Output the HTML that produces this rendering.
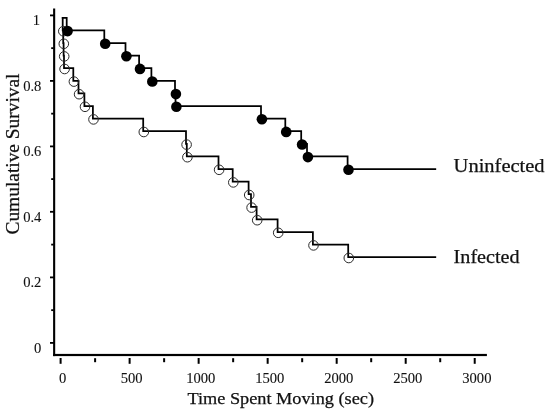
<!DOCTYPE html>
<html><head><meta charset="utf-8"><title>Survival</title>
<style>html,body{margin:0;padding:0;background:#fff;}body{width:550px;height:416px;overflow:hidden;}svg{display:block;}</style>
</head><body>
<svg width="550" height="416" viewBox="0 0 550 416">
<rect width="550" height="416" fill="#fff"/>
<rect x="53.1" y="8.5" width="2.1" height="347.6" fill="#000"/>
<rect x="53.1" y="353.9" width="433.8" height="2.2" fill="#000"/>
<rect x="50" y="342.00" width="4" height="1.8" fill="#000"/>
<rect x="50" y="276.50" width="4" height="1.8" fill="#000"/>
<rect x="50" y="210.90" width="4" height="1.8" fill="#000"/>
<rect x="50" y="145.50" width="4" height="1.8" fill="#000"/>
<rect x="50" y="80.00" width="4" height="1.8" fill="#000"/>
<rect x="50" y="14.50" width="4" height="1.8" fill="#000"/>
<rect x="51.2" y="309.25" width="2.5" height="1.8" fill="#000"/>
<rect x="51.2" y="243.70" width="2.5" height="1.8" fill="#000"/>
<rect x="51.2" y="178.20" width="2.5" height="1.8" fill="#000"/>
<rect x="51.2" y="112.75" width="2.5" height="1.8" fill="#000"/>
<rect x="51.2" y="47.25" width="2.5" height="1.8" fill="#000"/>
<rect x="59.60" y="358" width="2" height="5.8" fill="#000"/>
<rect x="128.62" y="358" width="2" height="5.8" fill="#000"/>
<rect x="197.64" y="358" width="2" height="5.8" fill="#000"/>
<rect x="266.66" y="358" width="2" height="5.8" fill="#000"/>
<rect x="335.68" y="358" width="2" height="5.8" fill="#000"/>
<rect x="404.70" y="358" width="2" height="5.8" fill="#000"/>
<rect x="473.72" y="358" width="2" height="5.8" fill="#000"/>
<rect x="94.11" y="358.2" width="2" height="4" fill="#000"/>
<rect x="163.13" y="358.2" width="2" height="4" fill="#000"/>
<rect x="232.15" y="358.2" width="2" height="4" fill="#000"/>
<rect x="301.17" y="358.2" width="2" height="4" fill="#000"/>
<rect x="370.19" y="358.2" width="2" height="4" fill="#000"/>
<rect x="439.21" y="358.2" width="2" height="4" fill="#000"/>
<path d="M62.7,17.8 H66.7 V30.4 H104.3 V43.0 H125.5 V55.6 H139.1 V68.2 H151.4 V80.8 H175.0 V93.4 H175.5 V106.0 H261.0 V118.6 H285.3 V131.2 H301.2 V143.8 H307.0 V156.4 H347.6 V169.0 H435.3" fill="none" stroke="#000" stroke-width="1.75" stroke-linejoin="miter" stroke-linecap="square"/>
<path d="M62.7,17.8 H62.7 V30.4 H63.2 V43.0 H63.6 V55.6 H64.0 V68.2 H73.3 V80.8 H78.5 V93.4 H84.4 V106.0 H92.9 V118.6 H143.2 V131.2 H186.0 V143.8 H186.8 V156.4 H218.5 V169.0 H232.7 V181.6 H248.6 V194.2 H251.0 V206.8 H256.6 V219.4 H277.6 V232.0 H312.9 V244.6 H348.2 V257.2 H435.3" fill="none" stroke="#000" stroke-width="1.75" stroke-linejoin="miter" stroke-linecap="square"/>
<circle cx="63.30" cy="31.20" r="4.8" fill="none" stroke="#2a2a2a" stroke-width="1.0"/>
<circle cx="63.80" cy="43.80" r="4.8" fill="none" stroke="#2a2a2a" stroke-width="1.0"/>
<circle cx="64.20" cy="56.40" r="4.8" fill="none" stroke="#2a2a2a" stroke-width="1.0"/>
<circle cx="64.60" cy="69.00" r="4.8" fill="none" stroke="#2a2a2a" stroke-width="1.0"/>
<circle cx="73.90" cy="81.60" r="4.8" fill="none" stroke="#2a2a2a" stroke-width="1.0"/>
<circle cx="79.10" cy="94.20" r="4.8" fill="none" stroke="#2a2a2a" stroke-width="1.0"/>
<circle cx="85.00" cy="106.80" r="4.8" fill="none" stroke="#2a2a2a" stroke-width="1.0"/>
<circle cx="93.50" cy="119.40" r="4.8" fill="none" stroke="#2a2a2a" stroke-width="1.0"/>
<circle cx="143.80" cy="132.00" r="4.8" fill="none" stroke="#2a2a2a" stroke-width="1.0"/>
<circle cx="186.60" cy="144.60" r="4.8" fill="none" stroke="#2a2a2a" stroke-width="1.0"/>
<circle cx="187.40" cy="157.20" r="4.8" fill="none" stroke="#2a2a2a" stroke-width="1.0"/>
<circle cx="219.10" cy="169.80" r="4.8" fill="none" stroke="#2a2a2a" stroke-width="1.0"/>
<circle cx="233.30" cy="182.40" r="4.8" fill="none" stroke="#2a2a2a" stroke-width="1.0"/>
<circle cx="249.20" cy="195.00" r="4.8" fill="none" stroke="#2a2a2a" stroke-width="1.0"/>
<circle cx="251.60" cy="207.60" r="4.8" fill="none" stroke="#2a2a2a" stroke-width="1.0"/>
<circle cx="257.20" cy="220.20" r="4.8" fill="none" stroke="#2a2a2a" stroke-width="1.0"/>
<circle cx="278.20" cy="232.80" r="4.8" fill="none" stroke="#2a2a2a" stroke-width="1.0"/>
<circle cx="313.50" cy="245.40" r="4.8" fill="none" stroke="#2a2a2a" stroke-width="1.0"/>
<circle cx="348.80" cy="258.00" r="4.8" fill="none" stroke="#2a2a2a" stroke-width="1.0"/>
<circle cx="67.60" cy="31.10" r="5.3" fill="#000"/>
<circle cx="105.20" cy="43.70" r="5.3" fill="#000"/>
<circle cx="126.40" cy="56.30" r="5.3" fill="#000"/>
<circle cx="140.00" cy="68.90" r="5.3" fill="#000"/>
<circle cx="152.30" cy="81.50" r="5.3" fill="#000"/>
<circle cx="175.90" cy="94.10" r="5.3" fill="#000"/>
<circle cx="176.40" cy="106.70" r="5.3" fill="#000"/>
<circle cx="261.90" cy="119.30" r="5.3" fill="#000"/>
<circle cx="286.20" cy="131.90" r="5.3" fill="#000"/>
<circle cx="302.10" cy="144.50" r="5.3" fill="#000"/>
<circle cx="307.90" cy="157.10" r="5.3" fill="#000"/>
<circle cx="348.50" cy="169.70" r="5.3" fill="#000"/>
<text transform="translate(40.0,25.20) scale(0.95,1)" font-family="Liberation Serif, serif" font-size="15.4" text-anchor="end" fill="#111" stroke="#111" stroke-width="0.1">1</text>
<text transform="translate(41.4,90.70) scale(0.95,1)" font-family="Liberation Serif, serif" font-size="15.4" text-anchor="end" fill="#111" stroke="#111" stroke-width="0.1">0.8</text>
<text transform="translate(41.4,156.20) scale(0.95,1)" font-family="Liberation Serif, serif" font-size="15.4" text-anchor="end" fill="#111" stroke="#111" stroke-width="0.1">0.6</text>
<text transform="translate(41.4,221.60) scale(0.95,1)" font-family="Liberation Serif, serif" font-size="15.4" text-anchor="end" fill="#111" stroke="#111" stroke-width="0.1">0.4</text>
<text transform="translate(41.4,287.20) scale(0.95,1)" font-family="Liberation Serif, serif" font-size="15.4" text-anchor="end" fill="#111" stroke="#111" stroke-width="0.1">0.2</text>
<text transform="translate(41.4,352.70) scale(0.95,1)" font-family="Liberation Serif, serif" font-size="15.4" text-anchor="end" fill="#111" stroke="#111" stroke-width="0.1">0</text>
<text transform="translate(62.70,382.7) scale(0.95,1)" font-family="Liberation Serif, serif" font-size="15.4" text-anchor="middle" fill="#111" stroke="#111" stroke-width="0.1">0</text>
<text transform="translate(131.72,382.7) scale(0.95,1)" font-family="Liberation Serif, serif" font-size="15.4" text-anchor="middle" fill="#111" stroke="#111" stroke-width="0.1">500</text>
<text transform="translate(200.74,382.7) scale(0.95,1)" font-family="Liberation Serif, serif" font-size="15.4" text-anchor="middle" fill="#111" stroke="#111" stroke-width="0.1">1000</text>
<text transform="translate(269.76,382.7) scale(0.95,1)" font-family="Liberation Serif, serif" font-size="15.4" text-anchor="middle" fill="#111" stroke="#111" stroke-width="0.1">1500</text>
<text transform="translate(338.78,382.7) scale(0.95,1)" font-family="Liberation Serif, serif" font-size="15.4" text-anchor="middle" fill="#111" stroke="#111" stroke-width="0.1">2000</text>
<text transform="translate(407.80,382.7) scale(0.95,1)" font-family="Liberation Serif, serif" font-size="15.4" text-anchor="middle" fill="#111" stroke="#111" stroke-width="0.1">2500</text>
<text transform="translate(476.82,382.7) scale(0.95,1)" font-family="Liberation Serif, serif" font-size="15.4" text-anchor="middle" fill="#111" stroke="#111" stroke-width="0.1">3000</text>
<text x="187.5" y="403.7" font-family="Liberation Serif, serif" font-size="17.2" fill="#111" stroke="#111" stroke-width="0.25" textLength="186.5" lengthAdjust="spacingAndGlyphs">Time Spent Moving (sec)</text>
<text transform="translate(18.6,234.5) rotate(-90)" x="0" y="0" font-family="Liberation Serif, serif" font-size="18" fill="#111" stroke="#111" stroke-width="0.25" textLength="161" lengthAdjust="spacingAndGlyphs">Cumulative Survival</text>
<text x="453.6" y="171.6" font-family="Liberation Serif, serif" font-size="19" fill="#111" stroke="#111" stroke-width="0.25" textLength="91" lengthAdjust="spacingAndGlyphs">Uninfected</text>
<text x="453.6" y="263.3" font-family="Liberation Serif, serif" font-size="19" fill="#111" stroke="#111" stroke-width="0.25" textLength="66" lengthAdjust="spacingAndGlyphs">Infected</text>
</svg>
</body></html>
